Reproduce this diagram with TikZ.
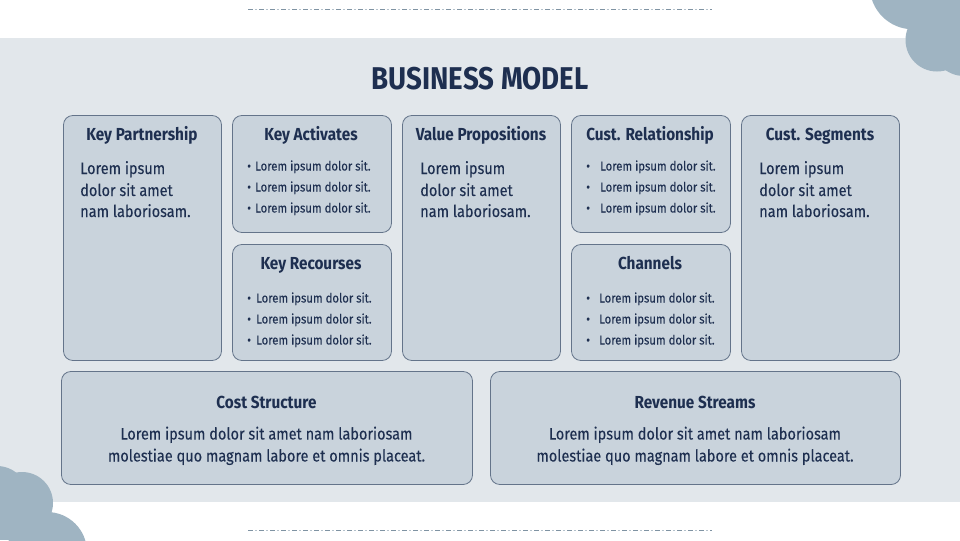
\documentclass[tikz,border=0pt]{standalone}
\usepackage{fontspec}
\setmainfont{Fira Sans}[FakeStretch=0.88]
\newfontface\bodyf{Fira Sans}[FakeStretch=0.88,FakeBold=0.12]
\definecolor{bgc}{HTML}{E2E7EB}
\definecolor{boxc}{HTML}{C9D3DC}
\definecolor{edgec}{HTML}{64748A}
\definecolor{inkc}{HTML}{1E2F50}
\definecolor{cloudc}{HTML}{9FB4C2}
\definecolor{dashc}{HTML}{7F93A3}
\definecolor{dashl}{HTML}{B5C2CC}
\newcommand{\fs}[1]{\fontsize{#1}{#1}\selectfont}
\tikzset{
 x=0.75pt,y=-0.75pt,
 card/.style={draw=edgec,fill=boxc,line width=0.6pt,rounded corners=7pt},
 head/.style={text=inkc,font=\fs{13.05}\bfseries,anchor=base,inner sep=0},
 body/.style={text=inkc,font=\bodyf\fs{12.35},anchor=base west,inner sep=0},
 bodyc/.style={text=inkc,font=\bodyf\fs{12.35},anchor=base,inner sep=0},
 item/.style={text=inkc,font=\bodyf\fs{9.65},anchor=base west,inner sep=0},
 ruled/.style={draw=dashc,line width=0.7pt,dash pattern=on 3.5pt off 4.75pt},
 rulel/.style={draw=dashl,line width=0.7pt,dash pattern=on 1.7pt off 6.55pt,dash phase=-5.2pt},
}
\newcommand{\card}[5]{\path[card] (#2,#3) rectangle (#4,#5) node[pos=0.5,inner sep=0] (#1) {};}
\newcommand{\items}[4]{%
 \foreach \yy/\k in {#4/a,#4+21/b,#4+42/c}{
  \node[item] (#1\k d) at (#2,\yy) {•};
  \node[item] (#1\k t) at (#3,\yy) {Lorem ipsum dolor sit.};
 }}
\newcommand{\para}[3]{%
 \node[body] (#1a) at (#2,#3) {Lorem ipsum};
 \node[body] (#1b) at (#2,#3+22) {dolor sit amet};
 \node[body] (#1c) at (#2,#3+43) {nam laboriosam.};}
\begin{document}
\begin{tikzpicture}
\useasboundingbox (0,0) rectangle (960,540);
\begin{scope}
\clip (0,0) rectangle (960,540);
\fill[white] (0,0) rectangle (960,540);
\fill[bgc] (0,38) rectangle (960,502);
\fill[cloudc] (913,-14) circle[radius=43.3];
\fill[cloudc] (937,40) circle[radius=31.5];
\fill[cloudc] (964,44) circle[radius=32];
\fill[cloudc] (925,-5) rectangle (960,50);
\fill[cloudc] (22,503) circle[radius=31];
\fill[cloudc] (-3,497) circle[radius=31];
\fill[cloudc] (47,552) circle[radius=40];
\fill[cloudc] (0,495) rectangle (40,540);
\end{scope}
\coordinate (ta) at (248,9.5); \coordinate (tb) at (712,9.5);
\coordinate (ba) at (248,530.5); \coordinate (bb) at (712,530.5);
\draw[ruled] (ta) -- (tb);
\draw[rulel] (ta) -- (tb);
\draw[ruled] (ba) -- (bb);
\draw[rulel] (ba) -- (bb);
\node[text=inkc,font=\fs{23.6}\bfseries,anchor=base,inner sep=0] (title) at (480,89.5) {BUSINESS MODEL};
\card{kp}{63.5}{115.5}{221.5}{360.5}
\card{ka}{232.5}{115.5}{391.5}{232.5}
\card{kr}{232.5}{244.5}{391.5}{360.5}
\card{vp}{402.5}{115.5}{560.5}{360.5}
\card{cr}{571.5}{115.5}{730.5}{232.5}
\card{ch}{571.5}{244.5}{730.5}{360.5}
\card{cs}{741.5}{115.5}{899.5}{360.5}
\card{co}{61.5}{371.5}{472.5}{484.5}
\card{re}{490.5}{371.5}{900.5}{484.5}
\node[head] (h1) at (142,140) {Key Partnership};
\node[head] (h2) at (311,140) {Key Activates};
\node[head] (h3) at (311,269) {Key Recourses};
\node[head] (h4) at (481,140) {Value Propositions};
\node[head] (h5) at (650,140) {Cust. Relationship};
\node[head] (h6) at (650,269) {Channels};
\node[head] (h7) at (820,140) {Cust. Segments};
\node[head] (h8) at (266.5,408) {Cost Structure};
\node[head] (h9) at (695,408) {Revenue Streams};
\para{pa}{80}{174}
\para{pb}{420}{174}
\para{pc}{759}{174}
\items{ia}{247}{255}{170.5}
\items{ib}{247}{256}{302.5}
\items{ic}{586}{600}{170.5}
\items{id}{586}{599}{302.5}
\node[bodyc] (c1) at (266.5,439.5) {Lorem ipsum dolor sit amet nam laboriosam};
\node[bodyc] (c2) at (266.5,461.5) {molestiae quo magnam labore et omnis placeat.};
\node[bodyc] (r1) at (695,439.5) {Lorem ipsum dolor sit amet nam laboriosam};
\node[bodyc] (r2) at (695,461.5) {molestiae quo magnam labore et omnis placeat.};
\end{tikzpicture}
\end{document}
